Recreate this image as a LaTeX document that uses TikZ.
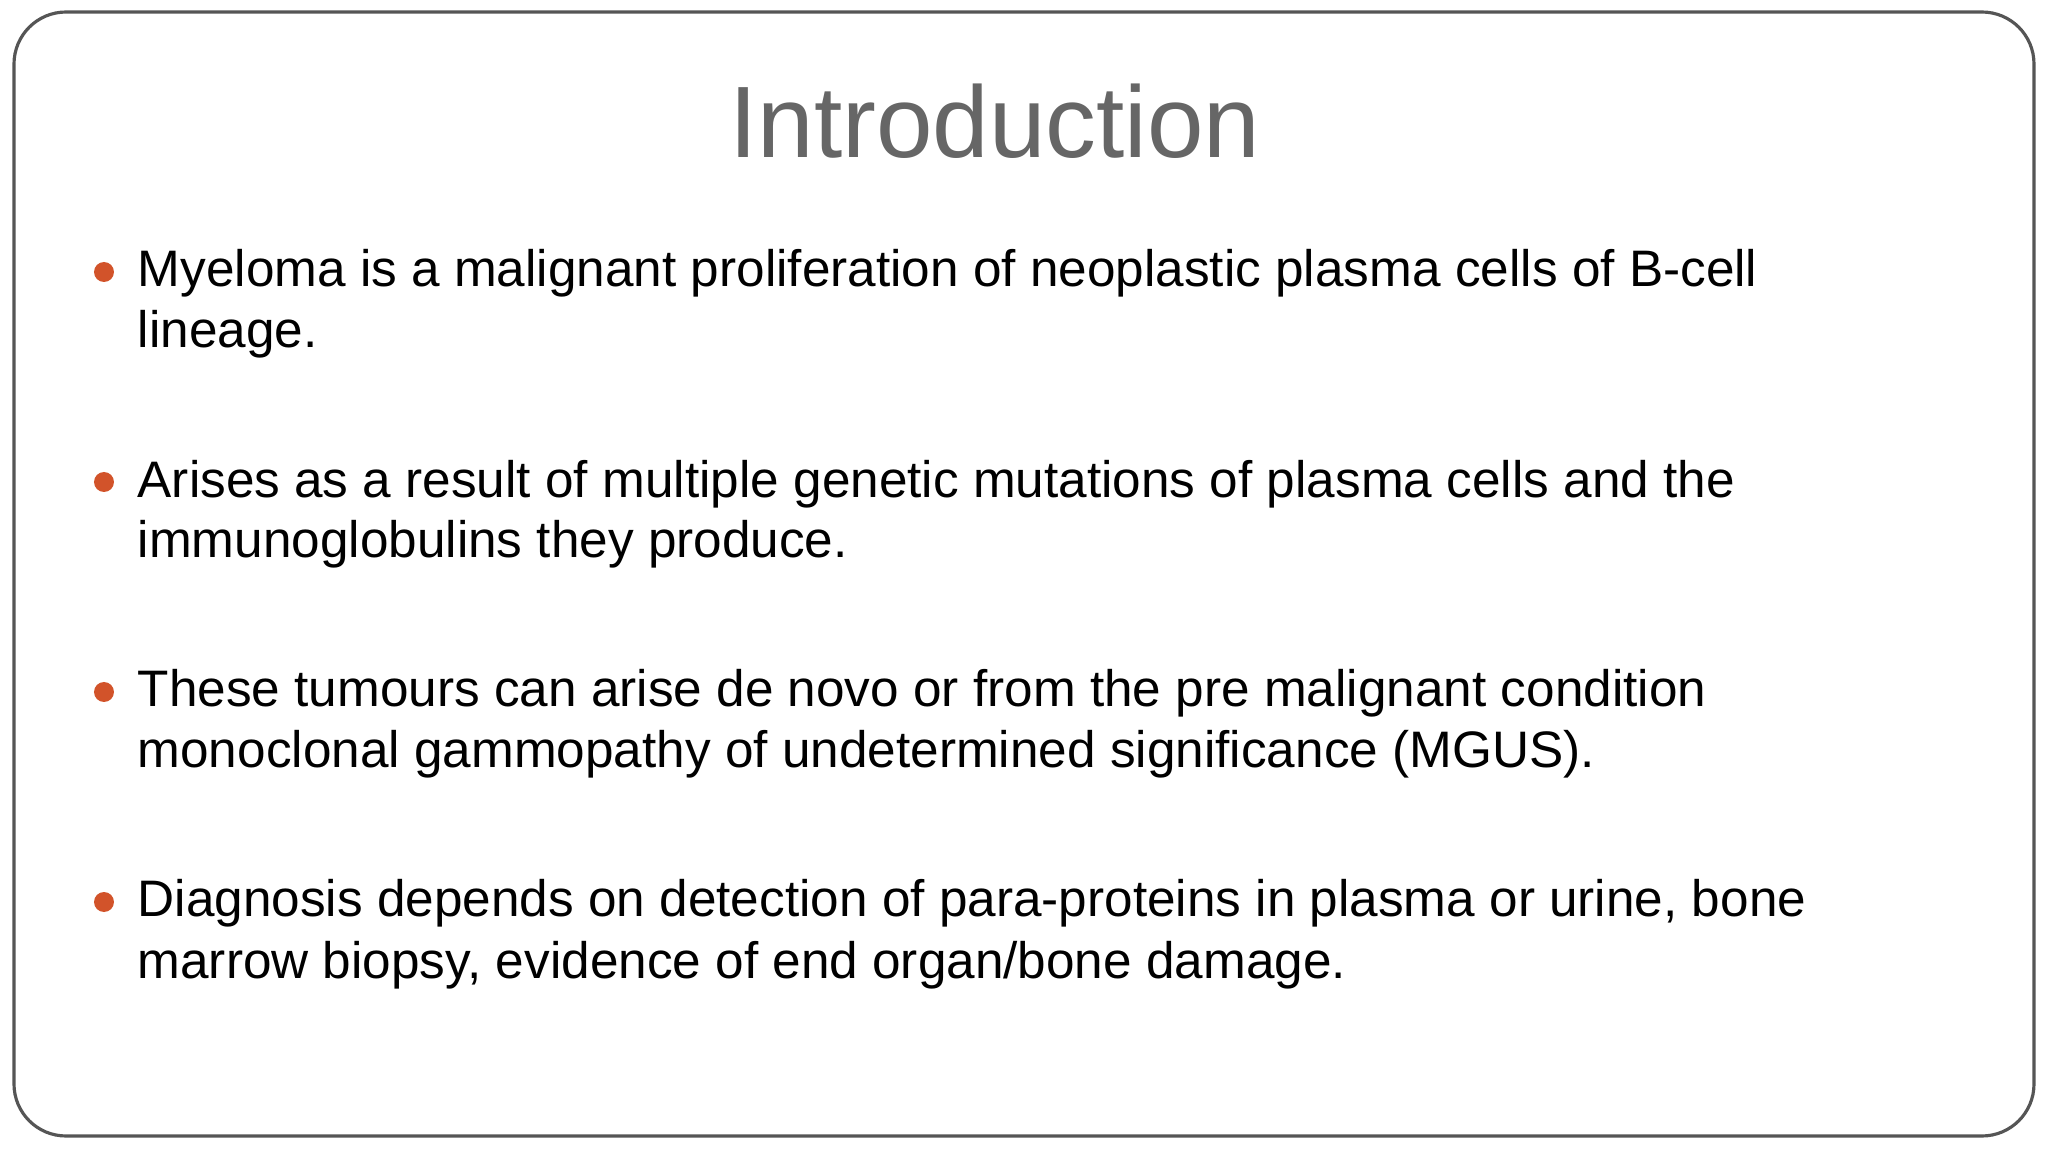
\documentclass[tikz,border=0pt]{standalone}
\usepackage{fontspec}
\setmainfont{Liberation Sans}
\definecolor{titlegray}{HTML}{666666}
\definecolor{bulletred}{HTML}{D2532A}
\definecolor{framegray}{HTML}{555555}
\tikzset{
  frame/.style={draw=framegray,line width=0.9pt,rounded corners=0.52cm},
  line/.style={anchor=base west,inner sep=0pt,font=\fontsize{14.6pt}{17pt}\selectfont,text=black},
  dot/.style={circle,fill=bulletred,inner sep=0pt,minimum size=0.2cm},
  ttl/.style={anchor=base,inner sep=0pt,font=\fontsize{28.9pt}{32pt}\selectfont,text=titlegray}
}
\begin{document}
\begin{tikzpicture}[x=1cm,y=1cm]
\useasboundingbox (0,0) rectangle (20.48,-11.52);
\fill[white] (0,0) rectangle (20.48,-11.52);
\draw[frame] (0.14,-0.12) rectangle (20.34,-11.36);
\node[ttl] (title) at (9.95,-1.58) {Introduction};
\node[dot] (b1) at (1.04,-2.72) {};
\node[line] (l1a) at (1.37,-2.87) {Myeloma is a malignant proliferation of neoplastic plasma cells of B-cell};
\node[line] (l1b) at (1.37,-3.48) {lineage.};
\node[dot] (b2) at (1.04,-4.82) {};
\node[line] (l2a) at (1.37,-4.97) {Arises as a result of multiple genetic mutations of plasma cells and the};
\node[line] (l2b) at (1.37,-5.58) {immunoglobulins they produce.};
\node[dot] (b3) at (1.04,-6.92) {};
\node[line] (l3a) at (1.37,-7.07) {These tumours can arise de novo or from the pre malignant condition};
\node[line] (l3b) at (1.37,-7.68) {monoclonal gammopathy of undetermined significance (MGUS).};
\node[dot] (b4) at (1.04,-9.02) {};
\node[line] (l4a) at (1.37,-9.17) {Diagnosis depends on detection of para-proteins in plasma or urine, bone};
\node[line] (l4b) at (1.37,-9.78) {marrow biopsy, evidence of end organ/bone damage.};
\end{tikzpicture}
\end{document}
